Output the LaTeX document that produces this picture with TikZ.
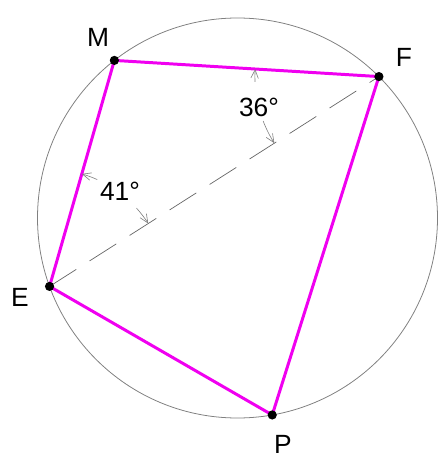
\documentclass[tikz,border=0pt]{standalone}
\usepackage{fontspec}
\setmainfont{Liberation Sans}
\usetikzlibrary{arrows.meta}
\definecolor{quadpink}{RGB}{240,0,240}

\begin{document}
\begin{tikzpicture}[x = 0.02cm, y = 0.02cm,
    every node/.style = {font = \fontsize{15}{18}\selectfont, inner sep = 0pt},
    side/.style = {draw = quadpink, line width = 1.7pt},
    marker/.style = {draw = gray, line width = 0.35pt, -{Straight Barb[length = 1.7mm, width = 1.5mm]}}]
    \useasboundingbox (-237.5, -245) rectangle (208.5, 218);
    \draw[gray, line width = 0.45pt] (0, 0) circle[radius = 200];
    \coordinate (M) at (128:200);
    \coordinate (F) at (45:200);
    \coordinate (E) at (200:200);
    \coordinate (P) at (280:200);
    % diagonal
    \draw[gray!80!black, line width = 0.4pt, dash pattern = on 18pt off 9pt] (E) -- (F);
    \draw[side, line join = round] (M) -- (F) -- (P) -- (E) -- cycle;
    \foreach \p in {M, F, P, E}
        \fill (\p) circle[radius = 4.6];
    % angle marks
    \draw[marker] ([shift = {(182.5:124)}]F) arc[start angle = 182.5, end angle = 176.5, radius = 124];
    \draw[marker] ([shift = {(201:124)}]F) arc[start angle = 201, end angle = 212.5, radius = 124];
    \draw[marker] ([shift = {(66:117)}]E) arc[start angle = 66, end angle = 74, radius = 117];
    \draw[marker] ([shift = {(42:117)}]E) arc[start angle = 42, end angle = 32.5, radius = 117];
    \node (a36) at (21.5, 111) {36°};
    \node (a41) at (-117.5, 27) {41°};
    \node (M label) at (-139.5, 181) {M};
    \node (F label) at (166.5, 161) {F};
    \node (E label) at (-217.5, -79) {E};
    \node (P label) at (45.5, -226) {P};
\end{tikzpicture}
\end{document}
